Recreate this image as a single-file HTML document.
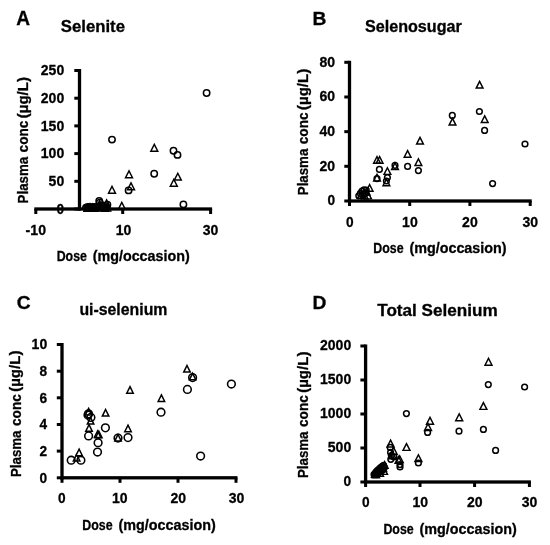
<!DOCTYPE html>
<html lang="en"><head><meta charset="utf-8"><title>Plasma concentration vs dose</title>
<style>html,body{margin:0;padding:0;background:#fff}svg{display:block}#fig{filter:url(#soft)}text{font-family:"Liberation Sans", sans-serif;fill:#000;stroke:#000;stroke-width:0.3px}</style>
</head><body>
<svg width="550" height="545" viewBox="0 0 550 545">
<rect width="550" height="545" fill="#fff"/>
<defs><filter id="soft" x="0" y="0" width="550" height="545" filterUnits="userSpaceOnUse"><feGaussianBlur stdDeviation="0.4"/></filter></defs>
<g id="fig">
<g fill="#000" stroke="none">
<rect x="77.85" y="69.00" width="3.3" height="141.65"/>
<rect x="34.30" y="207.35" width="177.80" height="3.3"/>
<rect x="74.30" y="69.00" width="5.2" height="3.0"/>
<rect x="74.30" y="96.70" width="5.2" height="3.0"/>
<rect x="74.30" y="124.40" width="5.2" height="3.0"/>
<rect x="74.30" y="152.10" width="5.2" height="3.0"/>
<rect x="74.30" y="179.80" width="5.2" height="3.0"/>
<rect x="74.30" y="207.50" width="5.2" height="3.0"/>
<rect x="34.30" y="209.00" width="3.0" height="5.0"/>
<rect x="121.20" y="209.00" width="3.0" height="5.0"/>
<rect x="209.10" y="209.00" width="3.0" height="5.0"/>
<text x="64.20" y="75.10" font-size="15.0" font-weight="bold" text-anchor="end" textLength="23.40" lengthAdjust="spacingAndGlyphs">250</text>
<text x="64.20" y="102.80" font-size="15.0" font-weight="bold" text-anchor="end" textLength="23.40" lengthAdjust="spacingAndGlyphs">200</text>
<text x="64.20" y="130.50" font-size="15.0" font-weight="bold" text-anchor="end" textLength="23.40" lengthAdjust="spacingAndGlyphs">150</text>
<text x="64.20" y="158.20" font-size="15.0" font-weight="bold" text-anchor="end" textLength="23.40" lengthAdjust="spacingAndGlyphs">100</text>
<text x="64.20" y="185.90" font-size="15.0" font-weight="bold" text-anchor="end" textLength="15.60" lengthAdjust="spacingAndGlyphs">50</text>
<text x="64.20" y="213.60" font-size="15.0" font-weight="bold" text-anchor="end" textLength="7.60" lengthAdjust="spacingAndGlyphs">0</text>
<text x="35.80" y="234.50" font-size="15.0" font-weight="bold" text-anchor="middle" textLength="20.40" lengthAdjust="spacingAndGlyphs">-10</text>
<text x="123.50" y="234.50" font-size="15.0" font-weight="bold" text-anchor="middle" textLength="15.60" lengthAdjust="spacingAndGlyphs">10</text>
<text x="210.60" y="234.50" font-size="15.0" font-weight="bold" text-anchor="middle" textLength="15.60" lengthAdjust="spacingAndGlyphs">30</text>
<text x="60.80" y="31.60" font-size="16.1" font-weight="bold" text-anchor="start" textLength="64.20" lengthAdjust="spacingAndGlyphs">Selenite</text>
<text x="16.30" y="25.10" font-size="19.4" font-weight="bold" text-anchor="start" textLength="13.80" lengthAdjust="spacingAndGlyphs">A</text>
<text x="56.70" y="260.70" font-size="14.6" font-weight="bold" text-anchor="start" textLength="30.20" lengthAdjust="spacingAndGlyphs">Dose</text>
<text x="92.70" y="260.70" font-size="14.6" font-weight="bold" text-anchor="start" textLength="97.00" lengthAdjust="spacingAndGlyphs">(mg/occasion)</text>
<text x="28.20" y="203.40" font-size="14.8" font-weight="bold" text-anchor="start" textLength="46.50" lengthAdjust="spacingAndGlyphs" transform="rotate(-90 28.20 203.40)">Plasma</text>
<text x="28.20" y="152.40" font-size="14.8" font-weight="bold" text-anchor="start" textLength="31.80" lengthAdjust="spacingAndGlyphs" transform="rotate(-90 28.20 152.40)">conc</text>
<text x="28.20" y="118.20" font-size="14.8" font-weight="bold" text-anchor="start" textLength="41.20" lengthAdjust="spacingAndGlyphs" transform="rotate(-90 28.20 118.20)">(µg/L)</text>
</g>
<g fill="none" stroke="#000">
<circle cx="112.00" cy="139.60" r="3.20" stroke-width="1.5"/>
<circle cx="206.60" cy="93.00" r="3.20" stroke-width="1.5"/>
<circle cx="173.50" cy="150.80" r="3.20" stroke-width="1.5"/>
<circle cx="177.50" cy="154.90" r="3.20" stroke-width="1.5"/>
<circle cx="154.20" cy="173.80" r="3.20" stroke-width="1.5"/>
<circle cx="128.60" cy="190.40" r="3.20" stroke-width="1.5"/>
<circle cx="183.40" cy="204.40" r="3.20" stroke-width="1.5"/>
<path d="M154.30 144.45L157.79 151.28L150.81 151.28Z" stroke-width="1.45"/>
<path d="M129.00 170.95L132.49 177.78L125.51 177.78Z" stroke-width="1.45"/>
<path d="M177.80 173.25L181.29 180.08L174.31 180.08Z" stroke-width="1.45"/>
<path d="M173.80 179.45L177.29 186.28L170.31 186.28Z" stroke-width="1.45"/>
<path d="M131.00 182.95L134.49 189.78L127.51 189.78Z" stroke-width="1.45"/>
<path d="M112.00 186.45L115.49 193.28L108.51 193.28Z" stroke-width="1.45"/>
<path d="M121.80 202.45L125.29 209.28L118.31 209.28Z" stroke-width="1.45"/>
<circle cx="86.00" cy="207.60" r="3.20" stroke-width="1.5"/>
<circle cx="87.20" cy="207.20" r="3.20" stroke-width="1.5"/>
<circle cx="88.40" cy="207.80" r="3.20" stroke-width="1.5"/>
<circle cx="89.30" cy="207.00" r="3.20" stroke-width="1.5"/>
<circle cx="90.60" cy="207.50" r="3.20" stroke-width="1.5"/>
<circle cx="92.20" cy="207.20" r="3.20" stroke-width="1.5"/>
<circle cx="93.60" cy="207.60" r="3.20" stroke-width="1.5"/>
<path d="M90.00 203.95L93.49 210.78L86.51 210.78Z" stroke-width="1.45"/>
<path d="M92.60 204.15L96.09 210.97L89.11 210.97Z" stroke-width="1.45"/>
<path d="M87.50 204.35L90.99 211.18L84.01 211.18Z" stroke-width="1.45"/>
<path d="M94.50 204.55L97.99 211.38L91.01 211.38Z" stroke-width="1.45"/>
<circle cx="95.00" cy="207.00" r="3.20" stroke-width="1.5"/>
<circle cx="99.20" cy="201.00" r="3.20" stroke-width="1.5"/>
<circle cx="99.80" cy="202.60" r="3.20" stroke-width="1.5"/>
<path d="M99.60 200.55L103.09 207.38L96.11 207.38Z" stroke-width="1.45"/>
<path d="M100.20 203.35L103.69 210.18L96.71 210.18Z" stroke-width="1.45"/>
<circle cx="101.60" cy="205.50" r="3.20" stroke-width="1.5"/>
<path d="M106.60 199.95L110.09 206.78L103.11 206.78Z" stroke-width="1.45"/>
<circle cx="106.40" cy="207.40" r="3.20" stroke-width="1.5"/>
<path d="M107.20 204.15L110.69 210.97L103.71 210.97Z" stroke-width="1.45"/>
<circle cx="107.40" cy="204.80" r="3.20" stroke-width="1.5"/>
<path d="M101.60 204.15L105.09 210.97L98.11 210.97Z" stroke-width="1.45"/>
<path d="M104.80 204.35L108.29 211.18L101.31 211.18Z" stroke-width="1.45"/>
<circle cx="105.20" cy="206.00" r="3.20" stroke-width="1.5"/>
</g>
<g fill="#000" stroke="none">
<rect x="347.85" y="60.80" width="3.3" height="141.85"/>
<rect x="348.00" y="199.35" width="183.70" height="3.3"/>
<rect x="344.30" y="60.80" width="5.2" height="3.0"/>
<rect x="344.30" y="95.50" width="5.2" height="3.0"/>
<rect x="344.30" y="130.15" width="5.2" height="3.0"/>
<rect x="344.30" y="164.80" width="5.2" height="3.0"/>
<rect x="344.30" y="199.50" width="5.2" height="3.0"/>
<rect x="348.00" y="201.00" width="3.0" height="5.0"/>
<rect x="408.20" y="201.00" width="3.0" height="5.0"/>
<rect x="468.40" y="201.00" width="3.0" height="5.0"/>
<rect x="528.70" y="201.00" width="3.0" height="5.0"/>
<text x="335.00" y="66.60" font-size="15.0" font-weight="bold" text-anchor="end" textLength="15.60" lengthAdjust="spacingAndGlyphs">80</text>
<text x="335.00" y="101.30" font-size="15.0" font-weight="bold" text-anchor="end" textLength="15.60" lengthAdjust="spacingAndGlyphs">60</text>
<text x="335.00" y="135.95" font-size="15.0" font-weight="bold" text-anchor="end" textLength="15.60" lengthAdjust="spacingAndGlyphs">40</text>
<text x="335.00" y="170.60" font-size="15.0" font-weight="bold" text-anchor="end" textLength="15.60" lengthAdjust="spacingAndGlyphs">20</text>
<text x="335.00" y="205.30" font-size="15.0" font-weight="bold" text-anchor="end" textLength="7.60" lengthAdjust="spacingAndGlyphs">0</text>
<text x="349.80" y="226.60" font-size="15.0" font-weight="bold" text-anchor="middle" textLength="7.60" lengthAdjust="spacingAndGlyphs">0</text>
<text x="409.90" y="226.60" font-size="15.0" font-weight="bold" text-anchor="middle" textLength="15.60" lengthAdjust="spacingAndGlyphs">10</text>
<text x="469.90" y="226.60" font-size="15.0" font-weight="bold" text-anchor="middle" textLength="15.60" lengthAdjust="spacingAndGlyphs">20</text>
<text x="530.20" y="226.60" font-size="15.0" font-weight="bold" text-anchor="middle" textLength="15.60" lengthAdjust="spacingAndGlyphs">30</text>
<text x="364.90" y="32.00" font-size="16.1" font-weight="bold" text-anchor="start" textLength="97.00" lengthAdjust="spacingAndGlyphs">Selenosugar</text>
<text x="312.50" y="25.10" font-size="19.2" font-weight="bold" text-anchor="start">B</text>
<text x="373.30" y="252.90" font-size="14.6" font-weight="bold" text-anchor="start" textLength="30.27" lengthAdjust="spacingAndGlyphs">Dose</text>
<text x="409.38" y="252.90" font-size="14.6" font-weight="bold" text-anchor="start" textLength="97.22" lengthAdjust="spacingAndGlyphs">(mg/occasion)</text>
<text x="308.20" y="195.20" font-size="14.8" font-weight="bold" text-anchor="start" textLength="46.50" lengthAdjust="spacingAndGlyphs" transform="rotate(-90 308.20 195.20)">Plasma</text>
<text x="308.20" y="144.20" font-size="14.8" font-weight="bold" text-anchor="start" textLength="31.80" lengthAdjust="spacingAndGlyphs" transform="rotate(-90 308.20 144.20)">conc</text>
<text x="308.20" y="110.00" font-size="14.8" font-weight="bold" text-anchor="start" textLength="41.20" lengthAdjust="spacingAndGlyphs" transform="rotate(-90 308.20 110.00)">(µg/L)</text>
</g>
<g fill="none" stroke="#000">
<path d="M479.60 81.45L482.99 88.08L476.21 88.08Z" stroke-width="1.45"/>
<circle cx="479.40" cy="111.50" r="2.85" stroke-width="1.5"/>
<path d="M484.70 115.85L488.09 122.48L481.31 122.48Z" stroke-width="1.45"/>
<circle cx="484.60" cy="130.40" r="2.85" stroke-width="1.5"/>
<circle cx="452.30" cy="115.40" r="2.85" stroke-width="1.5"/>
<path d="M452.50 118.45L455.89 125.08L449.11 125.08Z" stroke-width="1.45"/>
<circle cx="525.00" cy="144.00" r="2.85" stroke-width="1.5"/>
<circle cx="492.60" cy="183.60" r="2.85" stroke-width="1.5"/>
<path d="M420.00 137.45L423.39 144.08L416.61 144.08Z" stroke-width="1.45"/>
<path d="M407.60 150.65L410.99 157.28L404.21 157.28Z" stroke-width="1.45"/>
<path d="M418.40 158.85L421.79 165.48L415.01 165.48Z" stroke-width="1.45"/>
<circle cx="407.60" cy="166.40" r="2.85" stroke-width="1.5"/>
<circle cx="418.40" cy="170.60" r="2.85" stroke-width="1.5"/>
<path d="M377.00 156.65L380.39 163.28L373.61 163.28Z" stroke-width="1.45"/>
<path d="M379.60 156.65L382.99 163.28L376.21 163.28Z" stroke-width="1.45"/>
<circle cx="395.00" cy="165.40" r="2.85" stroke-width="1.5"/>
<path d="M395.00 162.85L398.39 169.48L391.61 169.48Z" stroke-width="1.45"/>
<circle cx="379.40" cy="169.40" r="2.85" stroke-width="1.5"/>
<path d="M387.40 167.75L390.79 174.38L384.01 174.38Z" stroke-width="1.45"/>
<path d="M377.00 174.35L380.39 180.98L373.61 180.98Z" stroke-width="1.45"/>
<circle cx="377.00" cy="178.60" r="2.85" stroke-width="1.5"/>
<circle cx="387.40" cy="177.60" r="2.85" stroke-width="1.5"/>
<path d="M386.40 179.05L389.79 185.68L383.01 185.68Z" stroke-width="1.45"/>
<circle cx="386.40" cy="181.00" r="2.85" stroke-width="1.5"/>
<path d="M369.60 184.65L372.99 191.28L366.21 191.28Z" stroke-width="1.45"/>
<circle cx="358.80" cy="195.80" r="2.85" stroke-width="1.5"/>
<circle cx="360.40" cy="193.40" r="2.85" stroke-width="1.5"/>
<circle cx="362.00" cy="191.00" r="2.85" stroke-width="1.5"/>
<circle cx="364.00" cy="189.80" r="2.85" stroke-width="1.5"/>
<circle cx="366.20" cy="190.20" r="2.85" stroke-width="1.5"/>
<circle cx="363.60" cy="194.20" r="2.85" stroke-width="1.5"/>
<circle cx="365.80" cy="193.20" r="2.85" stroke-width="1.5"/>
<path d="M361.00 191.65L364.39 198.28L357.61 198.28Z" stroke-width="1.45"/>
<path d="M364.60 192.45L367.99 199.08L361.21 199.08Z" stroke-width="1.45"/>
<path d="M368.00 192.25L371.39 198.88L364.61 198.88Z" stroke-width="1.45"/>
<path d="M366.60 188.45L369.99 195.08L363.21 195.08Z" stroke-width="1.45"/>
</g>
<g fill="#000" stroke="none">
<rect x="60.35" y="343.00" width="3.3" height="136.45"/>
<rect x="60.50" y="476.15" width="177.00" height="3.3"/>
<rect x="56.80" y="343.00" width="5.2" height="3.0"/>
<rect x="56.80" y="369.70" width="5.2" height="3.0"/>
<rect x="56.80" y="396.30" width="5.2" height="3.0"/>
<rect x="56.80" y="423.00" width="5.2" height="3.0"/>
<rect x="56.80" y="449.60" width="5.2" height="3.0"/>
<rect x="56.80" y="476.30" width="5.2" height="3.0"/>
<rect x="60.50" y="477.80" width="3.0" height="5.0"/>
<rect x="118.50" y="477.80" width="3.0" height="5.0"/>
<rect x="176.50" y="477.80" width="3.0" height="5.0"/>
<rect x="234.50" y="477.80" width="3.0" height="5.0"/>
<text x="47.20" y="349.40" font-size="15.0" font-weight="bold" text-anchor="end" textLength="15.60" lengthAdjust="spacingAndGlyphs">10</text>
<text x="47.20" y="376.10" font-size="15.0" font-weight="bold" text-anchor="end" textLength="7.60" lengthAdjust="spacingAndGlyphs">8</text>
<text x="47.20" y="402.70" font-size="15.0" font-weight="bold" text-anchor="end" textLength="7.60" lengthAdjust="spacingAndGlyphs">6</text>
<text x="47.20" y="429.40" font-size="15.0" font-weight="bold" text-anchor="end" textLength="7.60" lengthAdjust="spacingAndGlyphs">4</text>
<text x="47.20" y="456.00" font-size="15.0" font-weight="bold" text-anchor="end" textLength="7.60" lengthAdjust="spacingAndGlyphs">2</text>
<text x="47.20" y="482.70" font-size="15.0" font-weight="bold" text-anchor="end" textLength="7.60" lengthAdjust="spacingAndGlyphs">0</text>
<text x="61.80" y="503.20" font-size="15.0" font-weight="bold" text-anchor="middle" textLength="7.60" lengthAdjust="spacingAndGlyphs">0</text>
<text x="119.80" y="503.20" font-size="15.0" font-weight="bold" text-anchor="middle" textLength="15.60" lengthAdjust="spacingAndGlyphs">10</text>
<text x="178.20" y="503.20" font-size="15.0" font-weight="bold" text-anchor="middle" textLength="15.60" lengthAdjust="spacingAndGlyphs">20</text>
<text x="236.60" y="503.20" font-size="15.0" font-weight="bold" text-anchor="middle" textLength="15.60" lengthAdjust="spacingAndGlyphs">30</text>
<text x="79.40" y="314.90" font-size="16.1" font-weight="bold" text-anchor="start" textLength="88.00" lengthAdjust="spacingAndGlyphs">ui-selenium</text>
<text x="16.80" y="308.80" font-size="19.2" font-weight="bold" text-anchor="start">C</text>
<text x="82.30" y="530.00" font-size="14.6" font-weight="bold" text-anchor="start" textLength="30.29" lengthAdjust="spacingAndGlyphs">Dose</text>
<text x="118.41" y="530.00" font-size="14.6" font-weight="bold" text-anchor="start" textLength="97.29" lengthAdjust="spacingAndGlyphs">(mg/occasion)</text>
<text x="20.50" y="477.00" font-size="14.8" font-weight="bold" text-anchor="start" textLength="46.50" lengthAdjust="spacingAndGlyphs" transform="rotate(-90 20.50 477.00)">Plasma</text>
<text x="20.50" y="426.00" font-size="14.8" font-weight="bold" text-anchor="start" textLength="31.80" lengthAdjust="spacingAndGlyphs" transform="rotate(-90 20.50 426.00)">conc</text>
<text x="20.50" y="391.80" font-size="14.8" font-weight="bold" text-anchor="start" textLength="41.20" lengthAdjust="spacingAndGlyphs" transform="rotate(-90 20.50 391.80)">(µg/L)</text>
</g>
<g fill="none" stroke="#000">
<path d="M76.60 454.40L79.85 460.95L73.35 460.95Z" stroke-width="1.5"/>
<path d="M79.10 449.10L82.35 455.65L75.85 455.65Z" stroke-width="1.5" fill="#fff"/>
<circle cx="71.20" cy="460.20" r="3.85" stroke-width="1.55"/>
<circle cx="80.90" cy="460.20" r="3.85" stroke-width="1.55"/>
<circle cx="88.60" cy="435.90" r="3.85" stroke-width="1.55"/>
<path d="M89.00 424.60L92.25 431.15L85.75 431.15Z" stroke-width="1.5"/>
<path d="M97.60 430.90L100.85 437.45L94.35 437.45Z" stroke-width="1.5"/>
<path d="M98.80 431.10L102.05 437.65L95.55 437.65Z" stroke-width="1.5"/>
<circle cx="98.10" cy="442.70" r="3.85" stroke-width="1.55"/>
<circle cx="97.50" cy="452.00" r="3.85" stroke-width="1.55"/>
<circle cx="105.40" cy="427.80" r="3.85" stroke-width="1.55"/>
<path d="M130.00 386.70L133.25 393.25L126.75 393.25Z" stroke-width="1.5"/>
<path d="M161.40 394.90L164.65 401.45L158.15 401.45Z" stroke-width="1.5"/>
<circle cx="161.00" cy="412.20" r="3.85" stroke-width="1.55"/>
<path d="M105.60 409.50L108.85 416.05L102.35 416.05Z" stroke-width="1.5"/>
<path d="M88.60 408.40L91.85 414.95L85.35 414.95Z" stroke-width="1.5"/>
<circle cx="88.00" cy="415.00" r="3.85" stroke-width="1.55"/>
<circle cx="88.50" cy="413.80" r="3.85" stroke-width="1.55"/>
<circle cx="90.90" cy="417.40" r="3.85" stroke-width="1.55"/>
<path d="M90.60 417.50L93.85 424.05L87.35 424.05Z" stroke-width="1.5"/>
<path d="M128.00 425.10L131.25 431.65L124.75 431.65Z" stroke-width="1.5"/>
<path d="M118.00 434.50L121.25 441.05L114.75 441.05Z" stroke-width="1.5"/>
<circle cx="118.00" cy="438.00" r="3.85" stroke-width="1.55"/>
<circle cx="128.00" cy="437.60" r="3.85" stroke-width="1.55"/>
<path d="M187.00 365.50L190.25 372.05L183.75 372.05Z" stroke-width="1.5"/>
<circle cx="192.60" cy="377.60" r="3.85" stroke-width="1.55"/>
<path d="M192.60 373.30L195.85 379.85L189.35 379.85Z" stroke-width="1.5"/>
<circle cx="187.40" cy="389.40" r="3.85" stroke-width="1.55"/>
<circle cx="231.40" cy="384.00" r="3.85" stroke-width="1.55"/>
<circle cx="200.60" cy="456.00" r="3.85" stroke-width="1.55"/>
</g>
<g fill="#000" stroke="none">
<rect x="363.95" y="344.50" width="3.3" height="139.15"/>
<rect x="364.10" y="480.35" width="166.80" height="3.3"/>
<rect x="360.40" y="344.50" width="5.2" height="3.0"/>
<rect x="360.40" y="378.50" width="5.2" height="3.0"/>
<rect x="360.40" y="412.50" width="5.2" height="3.0"/>
<rect x="360.40" y="446.50" width="5.2" height="3.0"/>
<rect x="360.40" y="480.50" width="5.2" height="3.0"/>
<rect x="364.10" y="482.00" width="3.0" height="5.0"/>
<rect x="418.50" y="482.00" width="3.0" height="5.0"/>
<rect x="473.10" y="482.00" width="3.0" height="5.0"/>
<rect x="527.90" y="482.00" width="3.0" height="5.0"/>
<text x="351.20" y="350.30" font-size="15.0" font-weight="bold" text-anchor="end" textLength="31.20" lengthAdjust="spacingAndGlyphs">2000</text>
<text x="351.20" y="384.30" font-size="15.0" font-weight="bold" text-anchor="end" textLength="31.20" lengthAdjust="spacingAndGlyphs">1500</text>
<text x="351.20" y="418.30" font-size="15.0" font-weight="bold" text-anchor="end" textLength="31.20" lengthAdjust="spacingAndGlyphs">1000</text>
<text x="351.20" y="452.30" font-size="15.0" font-weight="bold" text-anchor="end" textLength="23.40" lengthAdjust="spacingAndGlyphs">500</text>
<text x="351.20" y="486.30" font-size="15.0" font-weight="bold" text-anchor="end" textLength="7.60" lengthAdjust="spacingAndGlyphs">0</text>
<text x="365.80" y="507.40" font-size="15.0" font-weight="bold" text-anchor="middle" textLength="7.60" lengthAdjust="spacingAndGlyphs">0</text>
<text x="420.20" y="507.40" font-size="15.0" font-weight="bold" text-anchor="middle" textLength="15.60" lengthAdjust="spacingAndGlyphs">10</text>
<text x="474.70" y="507.40" font-size="15.0" font-weight="bold" text-anchor="middle" textLength="15.60" lengthAdjust="spacingAndGlyphs">20</text>
<text x="529.60" y="507.40" font-size="15.0" font-weight="bold" text-anchor="middle" textLength="15.60" lengthAdjust="spacingAndGlyphs">30</text>
<text x="377.20" y="315.50" font-size="16.1" font-weight="bold" text-anchor="start" textLength="120.60" lengthAdjust="spacingAndGlyphs">Total Selenium</text>
<text x="312.40" y="309.00" font-size="19.2" font-weight="bold" text-anchor="start">D</text>
<text x="383.40" y="533.90" font-size="14.6" font-weight="bold" text-anchor="start" textLength="30.29" lengthAdjust="spacingAndGlyphs">Dose</text>
<text x="419.51" y="533.90" font-size="14.6" font-weight="bold" text-anchor="start" textLength="97.29" lengthAdjust="spacingAndGlyphs">(mg/occasion)</text>
<text x="308.10" y="478.00" font-size="14.8" font-weight="bold" text-anchor="start" textLength="46.50" lengthAdjust="spacingAndGlyphs" transform="rotate(-90 308.10 478.00)">Plasma</text>
<text x="308.10" y="427.00" font-size="14.8" font-weight="bold" text-anchor="start" textLength="31.80" lengthAdjust="spacingAndGlyphs" transform="rotate(-90 308.10 427.00)">conc</text>
<text x="308.10" y="392.80" font-size="14.8" font-weight="bold" text-anchor="start" textLength="41.20" lengthAdjust="spacingAndGlyphs" transform="rotate(-90 308.10 392.80)">(µg/L)</text>
</g>
<g fill="none" stroke="#000">
<path d="M488.50 358.45L491.99 365.27L485.01 365.27Z" stroke-width="1.45"/>
<circle cx="488.30" cy="384.60" r="2.85" stroke-width="1.5"/>
<circle cx="524.60" cy="387.00" r="2.85" stroke-width="1.5"/>
<path d="M483.40 402.55L486.89 409.38L479.91 409.38Z" stroke-width="1.45"/>
<path d="M459.20 413.95L462.69 420.77L455.71 420.77Z" stroke-width="1.45"/>
<circle cx="459.00" cy="431.20" r="2.85" stroke-width="1.5"/>
<circle cx="483.40" cy="429.40" r="2.85" stroke-width="1.5"/>
<circle cx="495.60" cy="450.40" r="2.85" stroke-width="1.5"/>
<circle cx="406.40" cy="413.60" r="2.85" stroke-width="1.5"/>
<path d="M430.00 417.35L433.49 424.17L426.51 424.17Z" stroke-width="1.45"/>
<path d="M428.00 423.65L431.49 430.47L424.51 430.47Z" stroke-width="1.45"/>
<circle cx="427.60" cy="432.40" r="2.85" stroke-width="1.5"/>
<path d="M390.60 440.15L394.09 446.97L387.11 446.97Z" stroke-width="1.45"/>
<circle cx="390.20" cy="447.40" r="2.85" stroke-width="1.5"/>
<path d="M393.60 447.45L397.09 454.27L390.11 454.27Z" stroke-width="1.45"/>
<path d="M406.50 443.55L409.99 450.38L403.01 450.38Z" stroke-width="1.45"/>
<circle cx="390.60" cy="452.40" r="2.85" stroke-width="1.5"/>
<circle cx="391.40" cy="455.60" r="2.85" stroke-width="1.5"/>
<path d="M392.40 451.95L395.89 458.77L388.91 458.77Z" stroke-width="1.45"/>
<circle cx="390.80" cy="459.30" r="2.85" stroke-width="1.5"/>
<circle cx="394.00" cy="457.00" r="2.85" stroke-width="1.5"/>
<path d="M399.70 455.75L403.19 462.57L396.21 462.57Z" stroke-width="1.45"/>
<path d="M398.60 456.55L402.09 463.38L395.11 463.38Z" stroke-width="1.45"/>
<circle cx="400.00" cy="464.60" r="2.85" stroke-width="1.5"/>
<circle cx="400.00" cy="467.00" r="2.85" stroke-width="1.5"/>
<path d="M418.40 454.75L421.89 461.57L414.91 461.57Z" stroke-width="1.45"/>
<circle cx="418.40" cy="463.00" r="2.85" stroke-width="1.5"/>
<circle cx="374.00" cy="474.60" r="2.85" stroke-width="1.5"/>
<circle cx="375.20" cy="473.00" r="2.85" stroke-width="1.5"/>
<circle cx="376.40" cy="471.60" r="2.85" stroke-width="1.5"/>
<circle cx="377.60" cy="470.40" r="2.85" stroke-width="1.5"/>
<circle cx="379.00" cy="469.00" r="2.85" stroke-width="1.5"/>
<circle cx="380.60" cy="467.60" r="2.85" stroke-width="1.5"/>
<circle cx="382.20" cy="466.40" r="2.85" stroke-width="1.5"/>
<circle cx="383.60" cy="465.40" r="2.85" stroke-width="1.5"/>
<circle cx="384.40" cy="467.60" r="2.85" stroke-width="1.5"/>
<path d="M375.00 470.35L378.49 477.17L371.51 477.17Z" stroke-width="1.45"/>
<path d="M377.00 468.55L380.49 475.38L373.51 475.38Z" stroke-width="1.45"/>
<path d="M379.00 467.15L382.49 473.97L375.51 473.97Z" stroke-width="1.45"/>
<path d="M381.00 465.55L384.49 472.38L377.51 472.38Z" stroke-width="1.45"/>
<path d="M383.00 464.55L386.49 471.38L379.51 471.38Z" stroke-width="1.45"/>
<path d="M376.00 470.95L379.49 477.77L372.51 477.77Z" stroke-width="1.45"/>
<path d="M380.00 469.55L383.49 476.38L376.51 476.38Z" stroke-width="1.45"/>
<path d="M384.00 467.55L387.49 474.38L380.51 474.38Z" stroke-width="1.45"/>
<circle cx="378.00" cy="473.20" r="2.85" stroke-width="1.5"/>
<circle cx="382.00" cy="470.40" r="2.85" stroke-width="1.5"/>
<path d="M384.60 461.55L388.09 468.38L381.11 468.38Z" stroke-width="1.45"/>
<circle cx="376.20" cy="474.60" r="2.85" stroke-width="1.5"/>
</g>
</g></svg></body></html>
